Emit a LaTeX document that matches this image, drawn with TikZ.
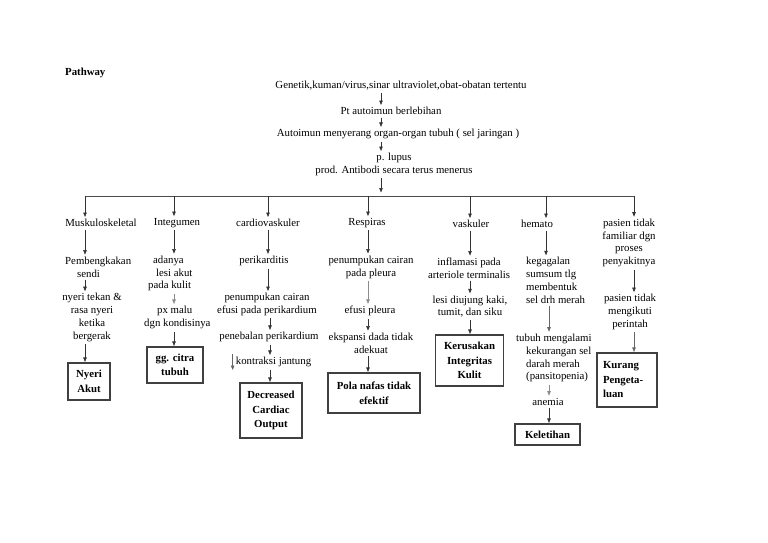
\documentclass[tikz,border=0pt]{standalone}
\usepackage{fontspec}
\setmainfont{Liberation Serif}
\usetikzlibrary{arrows.meta,calc}
\begin{document}
\begin{tikzpicture}[x=1pt,y=-1pt,
  txt/.style={font=\fontsize{10.8}{12.8}\selectfont, inner sep=0pt, align=center},
  txtl/.style={font=\fontsize{10.8}{12.8}\selectfont, inner sep=0pt, align=left, anchor=west},
  box/.style={draw=black!75, line width=1.1pt, font=\bfseries\fontsize{10.8}{14.5}\selectfont, align=center, inner sep=0pt},
  arr/.style={-{Triangle[length=4.5pt,width=3.5pt]}, line width=0.6pt, draw=black!80, shorten <=2.5pt, shorten >=2pt},
  arrl/.style={arr, draw=black!45},
  arrb/.style={arr, shorten >=0.5pt},
  arrbar/.style={arr, shorten <=0pt}]
\useasboundingbox (0,0) rectangle (768,543);
\fill[white] (0,0) rectangle (768,543);

% top chain
\node[txtl, font=\bfseries\fontsize{10.8}{12.8}\selectfont] (pw) at (65,73) {Pathway};
\node[txt] (t1) at (401,86) {Genetik,kuman/virus,sinar ultraviolet,obat-obatan tertentu};
\node[txt] (t2) at (391,111) {Pt autoimun berlebihan};
\node[txt] (t3) at (398,134) {Autoimun menyerang organ-organ tubuh ( sel jaringan )};
\node[txt] (t4) at (394,164.5) {p. lupus\\prod. Antibodi secara terus menerus};
\coordinate (xT) at (381,0);
\coordinate (bT) at (381,196);
\draw[arr] (t1.south -| xT) -- (t2.north -| xT);
\draw[arr] (t2.south -| xT) -- (t3.north -| xT);
\draw[arr] (t3.south -| xT) -- (t4.north -| xT);
\draw[arr, shorten >=3.5pt] (t4.south -| xT) -- (bT);

% bar
\coordinate (bA) at (85,196);
\coordinate (bB) at (174,196);
\coordinate (bC) at (268,196);
\coordinate (bD) at (368,196);
\coordinate (bE) at (470,196);
\coordinate (bF) at (546,196);
\coordinate (bG) at (634,196);
\draw[line width=0.8pt, draw=black!70] (bA) -- (bG);
\coordinate (xC2) at (270,0);
\coordinate (xF2) at (549,0);

% column A
\node[txt] (m1) at (101,223) {Muskuloskeletal};
\node[txtl] (m2) at (65,267) {Pembengkakan\\\hspace*{12pt}sendi};
\node[txt] (m3) at (92,317.5) {nyeri tekan \&\\rasa nyeri\\ketika\\bergerak};
\node[box, minimum width=42pt, minimum height=37pt] (m4) at (89,381.5) {Nyeri\\Akut};
\draw[arrbar] (bA) -- (m1.north -| bA);
\draw[arr] (m1.south -| bA) -- (m2.north -| bA);
\draw[arr] (m2.south -| bA) -- (m3.north -| bA);
\draw[arrb] (m3.south -| bA) -- (m4.north -| bA);

% column B
\node[txt] (i1) at (177,223) {Integumen};
\node[txtl] (i2) at (148,273.5) {\hspace*{5pt}adanya\\\hspace*{8pt}lesi akut\\pada kulit};
\node[txtl] (i3) at (144,317.5) {\hspace*{13pt}px malu\\dgn kondisinya};
\node[box, minimum width=56pt, minimum height=36pt] (i4) at (175,365) {gg. citra\\tubuh};
\draw[arrbar] (bB) -- (i1.north -| bB);
\draw[arr] (i1.south -| bB) -- (i2.north -| bB);
\draw[arrl] (i2.south -| bB) -- (i3.north -| bB);
\draw[arrb] (i3.south -| bB) -- (i4.north -| bB);

% column C
\node[txt] (c1) at (268,223) {cardiovaskuler};
\node[txt] (c2) at (264,261) {perikarditis};
\node[txt] (c3) at (267,304.5) {penumpukan cairan\\efusi pada perikardium};
\node[txt] (c4) at (269,337) {penebalan perikardium};
\node[txt] (c5) at (273.5,362) {kontraksi jantung};
\node[box, minimum width=62pt, minimum height=55pt] (c6) at (271,410.5) {Decreased\\Cardiac\\Output};
\coordinate (k1) at ($(c5.west)+(-3,-8)$);
\coordinate (k2) at ($(c5.west)+(-3,8)$);
\draw[arrbar, shorten >=0pt, draw=black!60] (k1) -- (k2);
\draw[arrbar] (bC) -- (c1.north -| bC);
\draw[arr] (c1.south -| bC) -- (c2.north -| bC);
\draw[arr] (c2.south -| bC) -- (c3.north -| bC);
\draw[arr] (c3.south -| xC2) -- (c4.north -| xC2);
\draw[arr] (c4.south -| xC2) -- (c5.north -| xC2);
\draw[arrb] (c5.south -| xC2) -- (c6.north -| xC2);

% column D
\node[txt] (r1) at (367,223) {Respiras};
\node[txt] (r2) at (371,267) {penumpukan cairan\\pada pleura};
\node[txt] (r3) at (370,311) {efusi pleura};
\node[txt] (r4) at (371,343) {ekspansi dada tidak\\adekuat};
\node[box, minimum width=92pt, minimum height=40pt] (r5) at (374,393) {Pola nafas tidak\\efektif};
\draw[arrbar] (bD) -- (r1.north -| bD);
\draw[arr] (r1.south -| bD) -- (r2.north -| bD);
\draw[arrl] (r2.south -| bD) -- (r3.north -| bD);
\draw[arr] (r3.south -| bD) -- (r4.north -| bD);
\draw[arrb] (r4.south -| bD) -- (r5.north -| bD);

% column E
\node[txt] (v1) at (471,224) {vaskuler};
\node[txt] (v2) at (469,268) {inflamasi pada\\arteriole terminalis};
\node[txt] (v3) at (470,306.5) {lesi diujung kaki,\\tumit, dan siku};
\node[box, minimum width=68pt, minimum height=51pt] (v4) at (469.5,360.5) {Kerusakan\\Integritas\\Kulit};
\draw[arrbar] (bE) -- (v1.north -| bE);
\draw[arr] (v1.south -| bE) -- (v2.north -| bE);
\draw[arr] (v2.south -| bE) -- (v3.north -| bE);
\draw[arrb] (v3.south -| bE) -- (v4.north -| bE);

% column F
\node[txt] (h1) at (537,224) {hemato};
\node[txtl] (h2) at (526,280.5) {kegagalan\\sumsum tlg\\membentuk\\sel drh merah};
\node[txtl] (h3) at (516,358) {tubuh mengalami\\\hspace*{10pt}kekurangan sel\\\hspace*{10pt}darah merah\\\hspace*{10pt}(pansitopenia)};
\node[txt] (h4) at (548,401.5) {anemia};
\node[box, minimum width=65pt, minimum height=21pt] (h5) at (547.5,434.5) {Keletihan};
\draw[arrbar] (bF) -- (h1.north -| bF);
\draw[arr] (h1.south -| bF) -- (h2.north -| bF);
\draw[arr, draw=black!60] (h2.south -| xF2) -- (h3.north -| xF2);
\draw[arrl] (h3.south -| xF2) -- (h4.north -| xF2);
\draw[arrb] (h4.south -| xF2) -- (h5.north -| xF2);

% column G
\node[txt] (p1) at (629,243) {pasien tidak\\familiar dgn\\proses\\penyakitnya};
\node[txt] (p2) at (630,312) {pasien tidak\\mengikuti\\perintah};
\node[box, align=left, text width=48pt, inner xsep=6pt, minimum height=54pt] (p3) at (627,380) {Kurang\\Pengeta-\\luan};
\draw[arrbar] (bG) -- (p1.north -| bG);
\draw[arr] (p1.south -| bG) -- (p2.north -| bG);
\draw[arrb, draw=black!60] (p2.south -| bG) -- (p3.north -| bG);
\end{tikzpicture}
\end{document}
